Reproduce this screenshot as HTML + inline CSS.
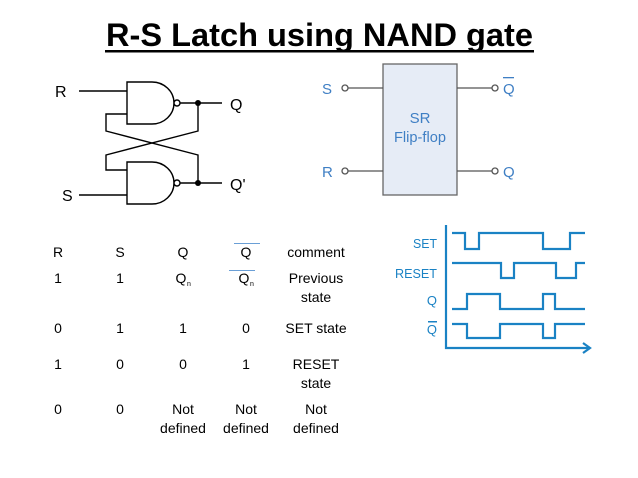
<!DOCTYPE html>
<html><head><meta charset="utf-8"><style>
html,body{margin:0;padding:0;background:#fff;}
svg{display:block;}
</style></head><body>
<svg width="638" height="478" viewBox="0 0 638 478" xmlns="http://www.w3.org/2000/svg" font-family="Liberation Sans, sans-serif">
<!-- Title -->
<text x="106" y="46" font-size="32" font-weight="bold" textLength="427" lengthAdjust="spacingAndGlyphs">R-S Latch using NAND gate</text>
<rect x="105" y="50" width="429" height="2.5" fill="#000"/>

<!-- Latch -->
<g stroke="#000" stroke-width="1.4" fill="none">
  <line x1="79" y1="91" x2="127" y2="91"/>
  <path d="M127,82 H152 A22,21 0 0 1 152,124 H127 Z"/>
  <circle cx="177" cy="103" r="3" fill="#fff"/>
  <line x1="180" y1="103" x2="222" y2="103"/>
  <polyline points="127,114 106,114 106,131 198,155 198,183"/>
  <polyline points="198,103 198,131 106,155 106,170 127,170"/>
  <path d="M127,162 H152 A22,21 0 0 1 152,204 H127 Z"/>
  <circle cx="177" cy="183" r="3" fill="#fff"/>
  <line x1="180" y1="183" x2="222" y2="183"/>
  <line x1="79" y1="195" x2="127" y2="195"/>
</g>
<circle cx="198" cy="103" r="3" fill="#000"/>
<circle cx="198" cy="183" r="3" fill="#000"/>
<g font-size="16" fill="#000">
  <text x="55" y="97">R</text>
  <text x="62" y="201">S</text>
  <text x="230" y="110">Q</text>
  <text x="230" y="190">Q'</text>
</g>

<!-- SR flip-flop -->
<rect x="383" y="64" width="74" height="131" fill="#e6ecf6" stroke="#666" stroke-width="1.3"/>
<g stroke="#555" stroke-width="1.3" fill="#fff">
  <line x1="348" y1="88" x2="383" y2="88"/>
  <line x1="348" y1="171" x2="383" y2="171"/>
  <line x1="457" y1="88" x2="492" y2="88"/>
  <line x1="457" y1="171" x2="492" y2="171"/>
  <circle cx="345" cy="88" r="3"/>
  <circle cx="345" cy="171" r="3"/>
  <circle cx="495" cy="88" r="3"/>
  <circle cx="495" cy="171" r="3"/>
</g>
<g fill="#3f7fc4" font-size="15">
  <text x="322" y="94">S</text>
  <text x="322" y="177">R</text>
  <text x="503" y="94">Q</text>
  <rect x="503" y="77" width="11" height="1.3"/>
  <text x="503" y="177">Q</text>
  <text x="420" y="123" text-anchor="middle" font-size="15">SR</text>
  <text x="420" y="142" text-anchor="middle" font-size="15" textLength="52" lengthAdjust="spacingAndGlyphs">Flip-flop</text>
</g>

<!-- Timing -->
<g stroke="#1a82c4" stroke-width="2.2" fill="none">
  <polyline points="446,225 446,348 588,348"/>
  <polyline points="583,343 590,348 583,353"/>
  <polyline points="452,233 465,233 465,249 479,249 479,233 543,233 543,249 570,249 570,233 585,233"/>
  <polyline points="452,263 501,263 501,278 514,278 514,263 556,263 556,278 576,278 576,263 585,263"/>
  <polyline points="452,309 467,309 467,294 500,294 500,309 543,309 543,294 555,294 555,309 585,309"/>
  <polyline points="452,324 467,324 467,338 500,338 500,324 543,324 543,338 555,338 555,324 585,324"/>
</g>
<g fill="#1a82c4" font-size="13" text-anchor="end">
  <text x="437" y="248" textLength="24" lengthAdjust="spacingAndGlyphs">SET</text>
  <text x="437" y="278" textLength="42" lengthAdjust="spacingAndGlyphs">RESET</text>
  <text x="437" y="305">Q</text>
  <text x="437" y="334">Q</text>
  <rect x="428" y="321" width="9" height="1.5"/>
</g>

<!-- Table -->
<g font-size="14" fill="#000" text-anchor="middle">
  <text x="58" y="257">R</text><text x="120" y="257">S</text><text x="183" y="257">Q</text><text x="246" y="257">Q</text><text x="316" y="257">comment</text>
  <text x="58" y="283">1</text><text x="120" y="283">1</text>
  <text x="181" y="283">Q</text><text x="189" y="286" font-size="7">n</text>
  <text x="244" y="283">Q</text><text x="252" y="286" font-size="7">n</text>
  <text x="316" y="283">Previous</text><text x="316" y="302">state</text>
  <text x="58" y="333">0</text><text x="120" y="333">1</text><text x="183" y="333">1</text><text x="246" y="333">0</text><text x="316" y="333">SET state</text>
  <text x="58" y="369">1</text><text x="120" y="369">0</text><text x="183" y="369">0</text><text x="246" y="369">1</text><text x="316" y="369">RESET</text><text x="316" y="388">state</text>
  <text x="58" y="414">0</text><text x="120" y="414">0</text>
  <text x="183" y="414">Not</text><text x="183" y="433">defined</text>
  <text x="246" y="414">Not</text><text x="246" y="433">defined</text>
  <text x="316" y="414">Not</text><text x="316" y="433">defined</text>
</g>
<rect x="234" y="243" width="26" height="1" fill="#6a9fd6"/>
<rect x="229" y="270" width="26" height="1" fill="#6a9fd6"/>
</svg>
</body></html>
